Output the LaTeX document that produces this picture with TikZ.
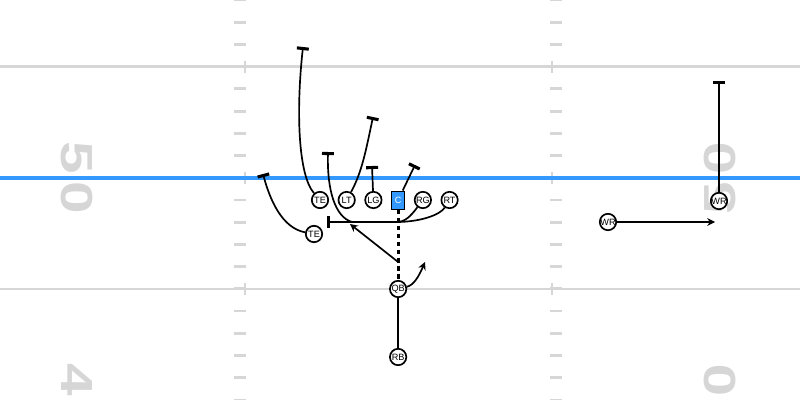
\documentclass[tikz,border=0pt]{standalone}
\usepackage{fontspec}
\setmainfont{Liberation Sans}
\usepackage{tikz}
\usetikzlibrary{arrows.meta,shapes,positioning}
\definecolor{fdblue}{RGB}{51,153,255}
\definecolor{fdgray}{RGB}{214,214,214}
\tikzstyle{player} = [circle, draw=black, fill=white, line width=1.2pt, minimum size=0.41cm, inner sep=0pt, font=\fontsize{6.5}{6.5}\selectfont]
\tikzstyle{centre} = [rectangle, draw=black, fill=fdblue, line width=0.7pt, minimum width=0.33cm, minimum height=0.45cm, inner sep=0pt, text=white, font=\fontsize{6.5}{6.5}\selectfont]
\tikzstyle{route} = [line width=1.2pt, color=black]
\tikzstyle{block} = [route, -{Bar[width=8.5pt,line width=2.2pt]}]
\tikzstyle{run} = [route, -{Stealth[length=5.5pt,width=5.5pt]}]
\tikzstyle{snap} = [line width=2.2pt, dash pattern=on 3.5pt off 2.2pt]
\tikzstyle{yardline} = [fdgray, line width=2pt]
\tikzstyle{hash} = [fdgray, line width=2pt]
\tikzstyle{yardnum} = [text=fdgray, inner sep=0pt, font=\fontsize{32}{32}\selectfont\bfseries]

\begin{document}
\begin{tikzpicture}[x=0.025cm, y=-0.025cm, node distance=0.215cm]
\useasboundingbox (0,0) rectangle (800,400);
\clip (0,0) rectangle (800,400);
% field
\draw[yardline] (0,66.7) -- (800,66.7);
\draw[yardline] (0,289) -- (800,289);
\foreach \k in {0,...,18} {
  \draw[hash] (234,\k*22.22) -- (246,\k*22.22);
  \draw[hash] (550,\k*22.22) -- (562,\k*22.22);
}
\foreach \y in {66.7,177.8,289} {
  \draw[fdgray, line width=1.2pt] (245,\y-6) -- (245,\y+6);
  \draw[fdgray, line width=1.2pt] (552,\y-6) -- (552,\y+6);
}
\node[yardnum, rotate=-90, xscale=1.3] (num50l) at (77,178) {5\hspace{4pt}0};
\node[yardnum, rotate=90, xscale=1.3] (num50r) at (720,178) {5\hspace{4pt}0};
\node[yardnum, rotate=-90, xscale=1.3] (num40l) at (77,400) {4\hspace{4pt}0};
\node[yardnum, rotate=90, xscale=1.3] (num40r) at (720,400) {4\hspace{4pt}0};
\draw[fdblue, line width=2.8pt] (0,177.8) -- (800,177.8);

% players
\node[player] (te) at (320,200) {TE};
\node[player, right=of te] (lt) {LT};
\node[player, right=of lt] (lg) {LG};
\node[centre, right=of lg] (c) {C};
\node[player, right=of c] (rg) {RG};
\node[player, right=of rg] (rt) {RT};
\node[player] (te2) at (314,234) {TE};
\node[player] (qb) at (c |- 0,289) {QB};
\node[player] (rb) at (c |- 0,357) {RB};
\node[player] (wr1) at (608,222) {WR};
\node[player] (wr2) at (719,201) {WR};

% route ends
\coordinate (te-end) at (303,47);
\coordinate (lt-end) at (373,117);
\coordinate (lg-end) at (372,166);
\coordinate (c-end) at (415,165);
\coordinate (te2-end) at (263,174);
\coordinate (pull) at (396,222);
\coordinate (rg-end) at (327,222);
\coordinate (wrap) at (352,222);
\coordinate (rt-end) at (328,152);
\coordinate (mesh) at (c |- 0,262);
\coordinate (hole) at (350,224);
\coordinate (qb-end) at (425,262);
\coordinate (wr1-end) at (715,222);
\coordinate (wr2-end) at (719,81);

% routes
\draw[block] (te) .. controls (298,175) and (296,110) .. (te-end);
\draw[block] (lt) .. controls (362,172) and (366,150) .. (lt-end);
\draw[block] (lg) -- (lg-end);
\draw[block] (c) -- (c-end);
\draw[block] (te2) .. controls (282,228) and (270,200) .. (te2-end);
\draw[block] (rg) .. controls (410,217) and (405,222) .. (pull) -- (rg-end);
\draw[block] (rt) .. controls (440,215) and (420,222) .. (pull) -- (wrap) .. controls (335,217) and (327,190) .. (rt-end);
\draw[snap] (c) -- (qb);
\draw[route] (rb) -- (qb);
\draw[run] (mesh) -- (hole);
\draw[run] (qb) .. controls (414,285) and (419,276) .. (qb-end);
\draw[run] (wr1) -- (wr1-end);
\draw[block] (wr2) -- (wr2-end);
\end{tikzpicture}
\end{document}
